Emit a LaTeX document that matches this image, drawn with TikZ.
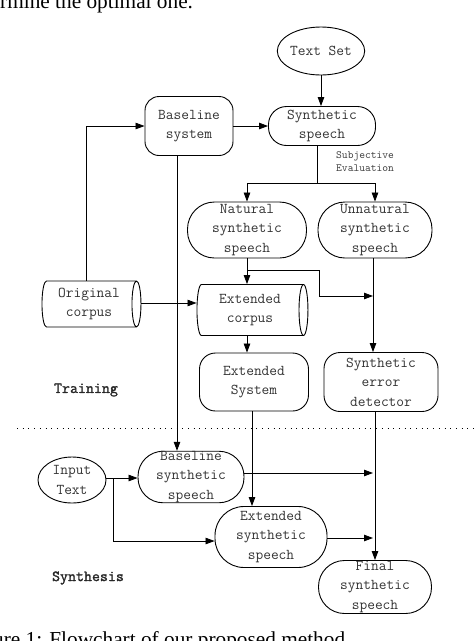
\documentclass[tikz,border=0pt]{standalone}
\usepackage{fontspec}
\newfontfamily\capfont{Liberation Serif}
\newfontfamily\boxfont{Latin Modern Mono}
\newfontfamily\lblfont{Latin Modern Mono}[AutoFakeBold=1.5]
\usetikzlibrary{shapes.geometric,arrows.meta,calc}
\tikzset{
  txt/.style={font=\boxfont\fontsize{15}{19.5}\selectfont, text=black!80, align=center, inner sep=0pt},
  rbox/.style={txt, draw=black, line width=0.9pt, rectangle, rounded corners=#1},
  rbox/.default=14pt,
  oval/.style={txt, draw=black, line width=0.9pt, ellipse},
  cyl/.style={txt, draw=black, line width=0.9pt, cylinder, shape aspect=0.28},
  conn/.style={draw=black, line width=0.8pt},
  arr/.style={conn, -{Triangle[length=9pt,width=6.5pt]}},
  phase/.style={font=\lblfont\bfseries\fontsize{15.5}{17}\selectfont, text=black!85, inner sep=0pt},
}
\begin{document}
\begin{tikzpicture}[x=1pt,y=-1pt]
\useasboundingbox (0,0) rectangle (474,641);
% cut-off surrounding text
\node[font=\capfont\fontsize{21.3}{24}\selectfont, anchor=base west, inner sep=0pt] (toptext) at (0,8.5) {rmine the optimal one.};
\node[font=\capfont\fontsize{21.3}{24}\selectfont, anchor=base west, inner sep=0pt] (caption) at (-7,646) {ure 1: Flowchart of our proposed method};

% nodes
\node[oval, minimum width=78pt, minimum height=48pt] (textset) at (321,51) {Text Set};
\node[rbox=14pt, minimum width=88pt, minimum height=59pt] (baseline) at (189,126) {Baseline\\system};
\node[rbox=18pt, minimum width=107pt, minimum height=39pt] (synth) at (322,126) {Synthetic\\speech};
\node[rbox=27pt, minimum width=119pt, minimum height=56pt] (natural) at (247,230) {Natural\\synthetic\\speech};
\node[rbox=27pt, minimum width=114pt, minimum height=56pt] (unnatural) at (375,230) {Unnatural\\synthetic\\speech};
\node[cyl, minimum height=99pt, minimum width=46pt] (orig) at (89,304) {Original\\corpus};
\node[cyl, minimum height=111pt, minimum width=51pt] (extcorpus) at (250,310) {Extended\\corpus};
\node[rbox=16pt, minimum width=109pt, minimum height=58pt] (extsys) at (254,382) {Extended\\System};
\node[rbox=16pt, minimum width=114pt, minimum height=59pt] (detector) at (381,382) {Synthetic\\error\\detector};
\node[oval, minimum width=68pt, minimum height=46pt] (input) at (72,480) {Input\\Text};
\node[rbox=25pt, minimum width=106pt, minimum height=51pt] (bsynth) at (191,477) {Baseline\\synthetic\\speech};
\node[rbox=29pt, minimum width=112pt, minimum height=61pt] (esynth) at (271,537) {Extended\\synthetic\\speech};
\node[rbox=26pt, minimum width=113pt, minimum height=53pt] (final) at (375,587) {Final\\synthetic\\speech};

% labels
\node[font=\boxfont\fontsize{11}{13}\selectfont, text=black!75, align=left, anchor=north west, inner sep=0pt] (subj) at (336,151) {Subjective\\Evaluation};
\node[phase] (training) at (86,390) {Training};
\node[phase] (synthesis) at (88,578) {Synthesis};

% helper coordinates
\coordinate (split) at (317,183);
\coordinate (bx) at (177,0);
\coordinate (nbr) at (247,270);
\coordinate (jog) at (319,0);
\coordinate (vline) at (373,0);
\coordinate (ibr) at (113,478);
\coordinate (ibot) at (113,541);
\coordinate (dl) at (17,428);
\coordinate (dr) at (474,428);

% connectors
\draw[arr] (textset.south) -- (synth.north -| textset.south);
\draw[arr] (baseline.east) -- (synth.west);
\draw[arr] (orig.north -| 86,0) |- (baseline.west);
\draw[arr] (baseline.south -| bx) -- (bsynth.north -| bx);
\draw[conn] (synth.south -| split) -- (split);
\draw[conn] (natural.north |- split) -- (unnatural.north |- split);
\draw[arr] (natural.north |- split) -- (natural.north);
\draw[arr] (unnatural.north |- split) -- (unnatural.north);
\draw[arr] (natural.south) -- (natural.south |- extcorpus.north);
\draw[arr] (nbr) -| (jog |- 0,296) -- (vline |- 0,296);
\draw[arr] (unnatural.south -| vline) -- (detector.north -| vline);
\draw[arr] (orig.east |- 0,303) -- (extcorpus.west |- 0,303);
\draw[arr] (extcorpus.south -| nbr) -- (extsys.north -| nbr);
\draw[arr, line width=1pt] (extsys.south -| 252,0) -- (esynth.north -| 252,0);
\draw[arr, line width=1pt] (detector.south -| 375,0) -- (final.north -| 375,0);
\draw[arr] (input.east |- ibr) -- (bsynth.west |- ibr);
\draw[arr] (ibr) -- (ibot) -- (esynth.west |- ibot);
\draw[arr] (bsynth.east |- 0,473) -- (vline |- 0,473);
\draw[arr] (esynth.east |- 0,538) -- (vline |- 0,538);

% divider
\draw[line width=0.9pt, dash pattern=on 1pt off 4.7pt] (dl) -- (dr);
\end{tikzpicture}
\end{document}
